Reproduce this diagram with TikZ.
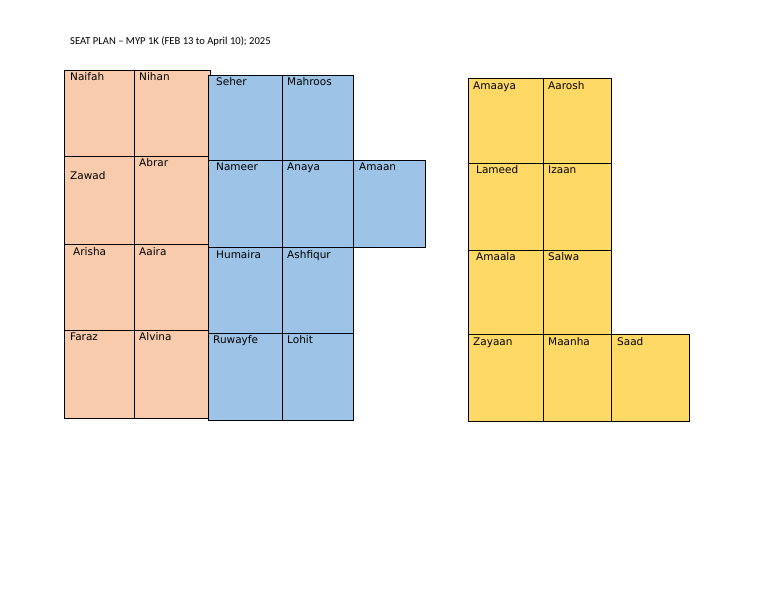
\documentclass[tikz,border=0pt]{standalone}
\usepackage{fontspec}
\setmainfont{DejaVu Sans}
\newfontfamily\titlefont{Carlito}
\definecolor{peach}{HTML}{F8CBAD}
\definecolor{skyblue}{HTML}{9DC3E6}
\definecolor{gold}{HTML}{FFD966}
\tikzset{
  seat/.style={draw=black, line width=0.8pt, anchor=north west, inner sep=0pt},
  seatname/.style={anchor=west, inner sep=0pt, text height=8pt, text depth=2pt, yshift=-2pt, font=\fontsize{10.5}{12}\selectfont}
}

\begin{document}
\begin{tikzpicture}[x=1pt,y=-1pt]
    \path[use as bounding box] (0,0) rectangle (768,594);
    \node[anchor=west, inner sep=0pt, font=\titlefont\fontsize{10.6}{12}\selectfont] (title) at (70,41) {SEAT PLAN – MYP 1K (FEB 13 to April 10); 2025};
    % orange block
    \foreach \nm/\x/\y/\w/\h/\tx/\ty in {Naifah/64/70/70/86/70/76, Nihan/134/70/76/86/139/76,
        Zawad/64/156/70/88/70/174, Abrar/134/156/76/88/139/161,
        Arisha/64/244/70/86/73/250, Aaira/134/244/76/86/139/250,
        Faraz/64/330/70/88/70/335, Alvina/134/330/76/88/139/335}
    {
        \node[seat, fill=peach, minimum width=\w pt, minimum height=\h pt] (\nm-seat) at (\x,\y) {};
        \node[seatname] (\nm) at (\tx,\ty) {\nm};
    }
    % blue block
    \foreach \nm/\x/\y/\w/\h/\tx/\ty in {Seher/208/75/74/85/216/80, Mahroos/282/75/71/85/287/80,
        Nameer/208/160/74/87/216/165, Anaya/282/160/71/87/287/165, Amaan/353/160/72/87/359/165,
        Humaira/208/247/74/86/216/253, Ashfiqur/282/247/71/86/287/253,
        Ruwayfe/208/333/74/87/213/338, Lohit/282/333/71/87/287/338}
    {
        \node[seat, fill=skyblue, minimum width=\w pt, minimum height=\h pt] (\nm-seat) at (\x,\y) {};
        \node[seatname] (\nm) at (\tx,\ty) {\nm};
    }
    % yellow block
    \foreach \nm/\x/\y/\w/\h/\tx/\ty in {Amaaya/468/78/75/85/473/84, Aarosh/543/78/68/85/548/84,
        Lameed/468/163/75/87/476/168, Izaan/543/163/68/87/548/168,
        Amaala/468/250/75/84/476/255, Salwa/543/250/68/84/548/255,
        Zayaan/468/334/75/87/473/340, Maanha/543/334/68/87/548/340, Saad/611/334/78/87/617/340}
    {
        \node[seat, fill=gold, minimum width=\w pt, minimum height=\h pt] (\nm-seat) at (\x,\y) {};
        \node[seatname] (\nm) at (\tx,\ty) {\nm};
    }
\end{tikzpicture}
\end{document}
